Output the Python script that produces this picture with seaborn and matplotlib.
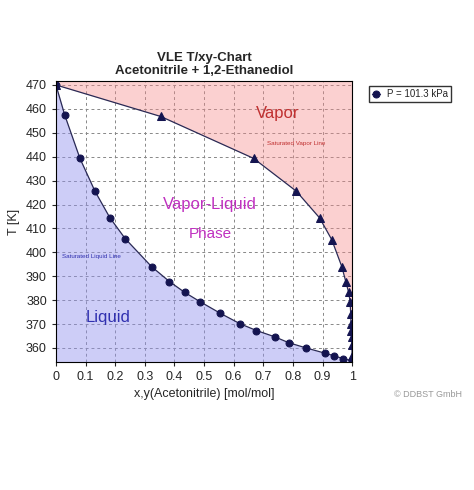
import numpy as np
import matplotlib.pyplot as plt
import seaborn as sns

# liquid (bubble) line
x_liq = [0.0, 0.03, 0.081, 0.132, 0.182, 0.234, 0.323, 0.383, 0.434, 0.486, 0.555,
         0.622, 0.677, 0.738, 0.786, 0.845, 0.909, 0.937, 0.968, 0.998]
T_liq = [470.0, 457.3, 439.3, 425.5, 414.5, 405.7, 394.0, 387.8, 383.3, 379.4, 374.5,
         370.1, 367.3, 364.7, 362.2, 360.0, 357.8, 356.8, 355.6, 354.7]
# vapor (dew) line
y_vap = [0.0, 0.354, 0.667, 0.811, 0.89, 0.931, 0.965, 0.979, 0.988, 0.993, 0.995,
         0.996, 0.997, 0.998, 0.999, 0.999, 1.0, 1.0, 1.0]
T_vap = [470.0, 456.8, 439.3, 425.6, 414.4, 405.3, 394.0, 387.5, 383.3, 379.4, 374.4,
         370.0, 367.3, 364.7, 362.2, 360.0, 357.8, 356.8, 355.6]

sns.set_style("white")
plt.rcParams['font.family'] = ['Liberation Sans', 'DejaVu Sans']

fig = plt.figure(figsize=(4.74, 4.90), dpi=100)
ax = fig.add_axes([0.118, 0.262, 0.625, 0.572])
ymin, ymax = 354.3, 471.5

# phase shading
ax.fill_between(np.array(y_vap), T_vap, ymax, color="#f58a8a", alpha=0.4, lw=0)
ax.fill_between(x_liq, ymin, T_liq, color="#9090ee", alpha=0.45, lw=0)

sns.lineplot(x=x_liq, y=T_liq, ax=ax, color="#2a2a55", lw=0.9, marker="o",
             markersize=5, markerfacecolor="#141450", markeredgecolor="#141450",
             sort=False, label="P = 101.3 kPa")
sns.lineplot(x=y_vap, y=T_vap, ax=ax, color="#2a2a55", lw=0.9, marker="^",
             markersize=5.5, markerfacecolor="#141450", markeredgecolor="#141450",
             sort=False, legend=False)

ax.set_xlim(0, 1.0)
ax.set_ylim(ymin, ymax)
ax.set_xticks([0, 0.1, 0.2, 0.3, 0.4, 0.5, 0.6, 0.7, 0.8, 0.9, 1])
ax.set_xticklabels(["0", "0.1", "0.2", "0.3", "0.4", "0.5", "0.6", "0.7", "0.8", "0.9", "1"])
ax.set_yticks(range(360, 471, 10))
ax.grid(True, ls=(0, (3, 3)), color="#888888", lw=0.7)
for s in ax.spines.values():
    s.set_color("black")
    s.set_linewidth(0.8)
ax.tick_params(axis="both", labelsize=9, direction="out", length=3, left=True, bottom=True)
ax.set_xlabel("x,y(Acetonitrile) [mol/mol]", fontsize=9)
ax.set_ylabel("T [K]", fontsize=9)
ax.set_title("VLE T/xy-Chart\nAcetonitrile + 1,2-Ethanediol", fontsize=9.5,
             fontweight="bold", pad=5)

ax.text(0.75, 456, "Vapor", color="#c03030", fontsize=12, ha="center")
ax.text(0.81, 445, "Saturated Vapor Line", color="#c03030", fontsize=4.5, ha="center")
ax.text(0.52, 418, "Vapor-Liquid", color="#c030c0", fontsize=12, ha="center")
ax.text(0.52, 406, "Phase", color="#c030c0", fontsize=11, ha="center")
ax.text(0.02, 397.5, "Saturated Liquid Line", color="#3030b0", fontsize=4.5)
ax.text(0.1, 371, "Liquid", color="#3030b0", fontsize=12)

leg = ax.legend(loc="upper left", bbox_to_anchor=(1.04, 1.0), fontsize=7,
                frameon=True, fancybox=False, handlelength=0.8, borderpad=0.3)
leg.get_frame().set_edgecolor("black")
fig.text(0.975, 0.19, "© DDBST GmbH", fontsize=6.5, color="#999999", ha="right")

fig.savefig("out.png", dpi=100)
